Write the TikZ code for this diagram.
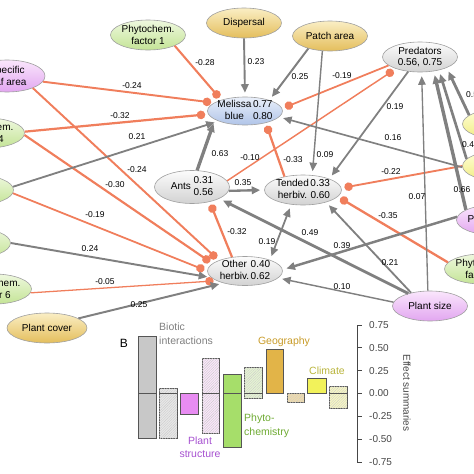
\documentclass[tikz,border=0pt]{standalone}
\usepackage{fontspec}
\setmainfont{Liberation Sans}
\usetikzlibrary{shapes.geometric,arrows.meta,patterns.meta}

\definecolor{negc}{RGB}{240,126,92}
\definecolor{posc}{RGB}{128,128,128}
\definecolor{bordc}{RGB}{160,160,160}
\definecolor{grnt}{RGB}{238,248,222}
\definecolor{grnb}{RGB}{196,228,150}
\definecolor{geot}{RGB}{250,238,196}
\definecolor{geob}{RGB}{228,190,92}
\definecolor{mbt}{RGB}{234,240,250}
\definecolor{mbb}{RGB}{176,196,232}
\definecolor{biot}{RGB}{252,252,252}
\definecolor{biob}{RGB}{210,210,210}
\definecolor{strt}{RGB}{250,230,252}
\definecolor{strb}{RGB}{226,166,240}
\definecolor{clit}{RGB}{255,255,216}
\definecolor{clib}{RGB}{240,236,130}
% bar chart colours
\definecolor{barline}{RGB}{85,85,85}
\definecolor{bgs}{RGB}{200,200,200}
\definecolor{bgh}{RGB}{232,232,232}
\definecolor{pss}{RGB}{232,140,242}
\definecolor{psh}{RGB}{250,230,250}
\definecolor{phs}{RGB}{166,222,106}
\definecolor{phh}{RGB}{230,245,210}
\definecolor{gos}{RGB}{226,180,72}
\definecolor{goh}{RGB}{242,220,168}
\definecolor{cls}{RGB}{242,242,90}
\definecolor{clh}{RGB}{248,248,194}
\definecolor{txbio}{RGB}{128,128,128}
\definecolor{txstr}{RGB}{166,80,208}
\definecolor{txphy}{RGB}{110,170,50}
\definecolor{txgeo}{RGB}{200,155,40}
\definecolor{txcli}{RGB}{185,180,60}
\definecolor{axc}{RGB}{70,70,70}

\tikzset{
  var/.style={ellipse, draw=bordc, line width=0.6pt, inner sep=-2pt,
    minimum width=75pt, minimum height=30pt, align=center,
    font=\fontsize{10}{11.5}\selectfont},
  grn/.style={var, top color=grnt, bottom color=grnb},
  geo/.style={var, top color=geot, bottom color=geob},
  mb/.style={var, top color=mbt, bottom color=mbb},
  bio/.style={var, top color=biot, bottom color=biob},
  str/.style={var, top color=strt, bottom color=strb},
  cli/.style={var, top color=clit, bottom color=clib},
  pos/.style={draw=posc, line width=#1pt, -{Triangle[length=8.5pt,width=7.5pt]}, shorten >=4pt},
  neg/.style={draw=negc, line width=#1pt, -{Circle[length=8.5pt]}, shorten >=3pt},
  lbl/.style={font=\fontsize{8.5}{9}\selectfont, inner sep=0pt},
  barb/.style={draw=barline, line width=1pt},
  hatch/.style={postaction={pattern={Lines[angle=45,distance=1.8pt,line width=0.4pt]},
    pattern color=black!20}},
  tick/.style={anchor=west, inner sep=0pt, text=axc, font=\fontsize{10}{11}\selectfont},
}

\begin{document}
\begin{tikzpicture}[x=1pt, y=-1pt]
\useasboundingbox (0,0) rectangle (474,474);

% variables
\node[grn] (pfa) at (148,35) {Phytochem.\\factor 1};
\node[geo] (dis) at (244,23) {Dispersal};
\node[geo] (pat) at (330,36) {Patch area};
\node[bio] (pred) at (420,57) {Predators\\0.56, 0.75};
\node[mb, minimum height=28pt] (mel) at (245,111)
  {\begin{tabular}{@{}c@{\,}l@{}}Melissa & 0.77\\ blue & 0.80\end{tabular}};
\node[bio, minimum height=33pt] (ants) at (192,187)
  {Ants \begin{tabular}{@{}l@{}}0.31\\0.56\end{tabular}};
\node[bio, minimum width=77pt] (tend) at (303,190)
  {\begin{tabular}{@{}c@{\,}l@{}}Tended & 0.33\\ herbiv. & 0.60\end{tabular}};
\node[bio, minimum height=29pt] (oth) at (245,271)
  {\begin{tabular}{@{}c@{\,}l@{}}Other & 0.40\\ herbiv. & 0.62\end{tabular}};
\node[str] (psize) at (430,306) {Plant size};
\node[str, minimum width=76pt, minimum height=32pt] (sla) at (7,76) {Specific\\leaf area};
\node[grn] (pf4) at (-13,133) {Phytochem.\\factor 4};
\node[grn] (pfb) at (-24,190) {};
\node[grn] (pfc) at (-27,243) {};
\node[grn] (pf6) at (-6,289) {Phytochem.\\factor 6};
\node[geo, minimum width=80pt] (pcov) at (47,328) {Plant cover};
\node[cli] (cla) at (500,124) {};
\node[cli] (clb) at (500,166) {};
\node[str] (pht) at (494,220) {Plant height};
\node[grn] (pfd) at (482,269) {Phytochem.\\factor 2};

% negative paths
\foreach \a/\b/\c in {pfa.338/mel.155/-0.28, sla.351/mel.165/-0.24, pf4.2/mel.185/-0.32,
    tend.144/mel.330/-0.33, pred.195/mel.4/-0.19, ants.10/pred.206/-0.10,
    oth.133/ants.320/-0.32, sla.335/oth.158/-0.24, pf4.357/oth.167/-0.30,
    pfb.355/oth.180/-0.19, pf6.354/oth.199/-0.05, clb.180/tend.3/-0.22,
    pfd.169/tend.349/-0.35}{
  \pgfmathsetmacro\w{1.1+3.5*abs(\c)}
  \draw[neg=\w] (\a) -- (\b);
}

% positive paths
\foreach \a/\b/\c in {dis.south/mel.north/0.23, pat.210/mel.24/0.25, pfb.5/mel.201/0.21,
    ants.73/mel.196/0.63, clb.182/mel.350/0.16, ants.354/tend.west/0.35,
    pat.243/tend.58/0.09, pred.231/tend.23/0.19, psize.150/ants.337/0.49,
    psize.145/tend.332/0.21, psize.174/oth.348/0.10, pht.175/oth.2/0.39,
    pfc.east/oth.191/0.24, pcov.17/oth.209/0.25, psize.98/pred.276/0.07,
    pht.160/pred.314/0.66, clb.168/pred.325/0.45, cla.164/pred.338/0.50}{
  \pgfmathsetmacro\w{1.1+3.5*abs(\c)}
  \draw[pos=\w] (\a) -- (\b);
}
\draw[pos=1.77, {Triangle[length=8.5pt,width=7.5pt]}-{Triangle[length=8.5pt,width=7.5pt]},
  shorten <=4pt] (tend.231) -- (oth.24);

% coefficients
\foreach \x/\y/\t [count=\i] in {205/63/-0.28, 256/62/0.23, 300/77/0.25, 342/76/-0.19,
    132/86/-0.24, 120/116/-0.32, 137/137/0.21, 220/154/0.63, 250/158/-0.10,
    293/160/-0.33, 395/107/0.19, 393/138/0.16, 325/155/0.09, 243/183/0.35,
    391/172/-0.22, 417/197/0.07, 462/190/0.66, 388/216/-0.35, 137/170/-0.24,
    115/185/-0.30, 95/215/-0.19, 90/249/0.24, 105/282/-0.05, 139/305/0.25,
    237/232/-0.32, 267/242/0.19, 310/233/0.49, 342/246/0.39, 390/263/0.21,
    342/287/0.10, 470.5/145/0.45, 474.5/95/0.50}
  \node[lbl] (w\i) at (\x,\y) {\t};

% panel B
\node[font=\fontsize{12}{12}\selectfont, inner sep=0pt] (lb) at (124,343) {B};
\foreach \xa/\xb/\ya/\yb/\cc in {138/156/336/438/bgs, 180/198/393.5/414/pss,
    223/241/374/447/phs, 266/283/349/393.5/gos, 307/326/378/393.5/cls}
  \draw[barb, fill=\cc] (\xa,\ya) rectangle (\xb,\yb);
\foreach \xa/\xb/\ya/\yb/\cc in {159/177/388/438/bgh, 202/219/358/433/psh,
    244/262/367/398/phh, 287/304/393.5/402/goh, 329/347/386/408/clh}
  \draw[barb, fill=\cc, hatch] (\xa,\ya) rectangle (\xb,\yb);
\foreach \xa/\xb in {138/156, 159/177, 202/219, 223/241, 244/262, 329/347}
  \draw[barb] (\xa,393.5) -- (\xb,393.5);

\node[anchor=north west, align=left, inner sep=0pt, text=txbio,
  font=\fontsize{10.5}{14}\selectfont] (tbio) at (159,323) {Biotic\\interactions};
\node[align=center, inner sep=0pt, text=txstr,
  font=\fontsize{10.5}{13}\selectfont] (tstr) at (200,447) {Plant\\structure};
\node[anchor=north west, align=left, inner sep=0pt, text=txphy,
  font=\fontsize{10.5}{14}\selectfont] (tphy) at (244,414) {Phyto-\\chemistry};
\node[inner sep=0pt, text=txgeo, font=\fontsize{10.5}{12}\selectfont] (tgeo) at (284,342) {Geography};
\node[inner sep=0pt, text=txcli, font=\fontsize{10.5}{12}\selectfont] (tcli) at (327,371) {Climate};

% effect axis
\draw[draw=axc, line width=1pt] (357,325) -- (357,462);
\foreach \v/\t [count=\i] in {0.75/0.75, 0.5/0.50, 0.25/0.25, 0/0.00, -0.25/-0.25, -0.5/-0.50, -0.75/-0.75}{
  \draw[draw=axc, line width=1pt] (357,{393.5-91.33*(\v)}) -- ++(5,0);
  \node[tick] (t\i) at (369,{393.5-91.33*(\v)}) {\t};
}
\node[rotate=-90, inner sep=0pt, text=axc, font=\fontsize{10}{11}\selectfont] (tax) at (407,393) {Effect summaries};
\end{tikzpicture}
\end{document}
